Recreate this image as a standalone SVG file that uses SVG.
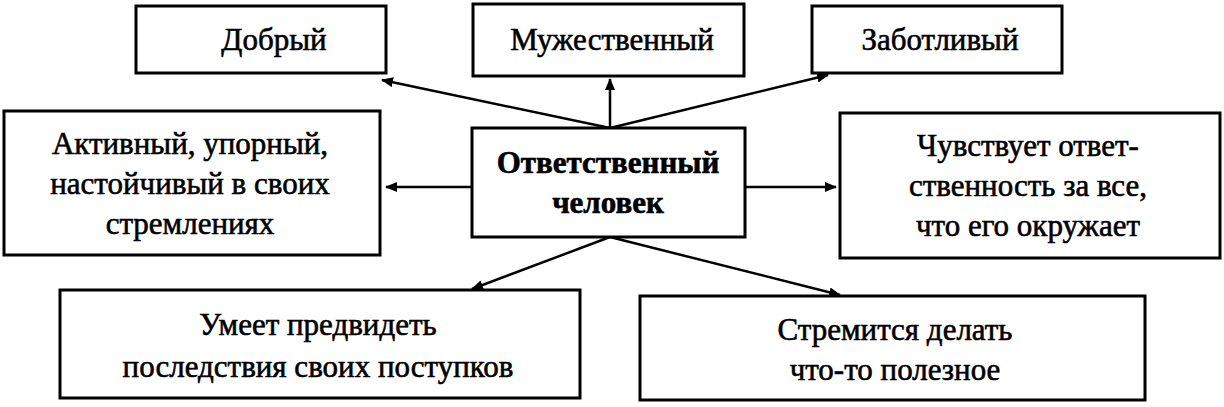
<svg xmlns="http://www.w3.org/2000/svg" width="1224" height="407" viewBox="0 0 1224 407">
<style>
rect{fill:#fff;stroke:#000;stroke-width:3}
text{font-family:"Liberation Serif","Times New Roman",Times,serif;font-size:31px;text-anchor:middle;fill:#000;stroke:#000;stroke-width:0.6}
.c line{stroke:#000;stroke-width:2.5;marker-end:url(#a)}
</style>
<defs><marker id="a" markerWidth="12" markerHeight="10" refX="11" refY="5" orient="auto" markerUnits="userSpaceOnUse"><path d="M0,0L12,5L0,10z"/></marker></defs>
<rect width="1224" height="407" style="stroke:none"/>
<g class="c">
<line x1="610" y1="128" x2="382" y2="80"/>
<line x1="610" y1="128" x2="610" y2="79"/>
<line x1="610" y1="128" x2="828" y2="75"/>
<line x1="472" y1="187" x2="386" y2="187"/>
<line x1="745" y1="187" x2="836" y2="187"/>
<line x1="610" y1="237" x2="472" y2="289"/>
<line x1="610" y1="237" x2="840" y2="295"/>
</g>
<g id="n1"><rect x="136" y="6" width="250" height="67"/><text x="274" y="50">Добрый</text></g>
<g id="n2"><rect x="473" y="4" width="271" height="72"/><text x="612" y="50">Мужественный</text></g>
<g id="n3"><rect x="812" y="6" width="250" height="67"/><text x="940" y="50">Заботливый</text></g>
<g id="n4"><rect x="4" y="111" width="376" height="144"/><text x="190" y="154">Активный, упорный,</text><text x="190" y="194">настойчивый в своих</text><text x="190" y="234">стремлениях</text></g>
<g id="n5"><rect x="472" y="128" width="273" height="109"/><text x="608" y="173" font-weight="bold">Ответственный</text><text x="608" y="213" font-weight="bold">человек</text></g>
<g id="n6"><rect x="840" y="113" width="380" height="145"/><text x="1028" y="156">Чувствует ответ-</text><text x="1028" y="196">ственность за все,</text><text x="1028" y="236">что его окружает</text></g>
<g id="n7"><rect x="60" y="290" width="520" height="108"/><text x="318" y="335">Умеет предвидеть</text><text x="318" y="377">последствия своих поступков</text></g>
<g id="n8"><rect x="640" y="296" width="505" height="104"/><text x="895" y="340">Стремится делать</text><text x="895" y="380">что-то полезное</text></g>
</svg>
